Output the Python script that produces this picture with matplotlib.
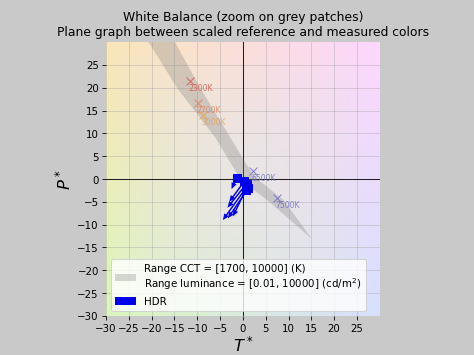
import numpy as np
import matplotlib
matplotlib.use('Agg')
import matplotlib.pyplot as plt
from matplotlib.patches import Patch, Polygon

# CCT reference points (T*, P*)
cct_labels = ['2300K', '2700K', '3000K', '6500K', '7500K']
cct_t = [-11.7, -9.9, -8.7, 2.2, 7.4]
cct_p = [21.5, 16.7, 14.0, 1.8, -4.2]
cct_colors = ['#d9534f', '#e0805a', '#e8a050', '#6a6ac8', '#6a6ac8']

# CCT / luminance range band outline (T*, P*)
band_t = [-21.9, -14.4, -6.0, -1.6, -0.5, 5.3, 15.2, 8.9, 3.4, 1.7, -2.7, -9.3, -16.0]
band_p = [32.0, 19.9, 9.0, 1.7, -0.2, -4.6, -13.2, -4.6, -0.2, 1.7, 9.0, 19.9, 32.0]

# measured grey patches: reference (start) -> measured (end)
hdr_t0 = [-1.4, 0.3, 0.8, 1.0, 1.2, 0.6]
hdr_p0 = [0.3, -0.5, -1.0, -1.5, -2.0, -2.4]
hdr_t1 = [-2.5, -3.0, -3.4, -4.4, -3.3, -2.2]
hdr_p1 = [-2.2, -5.0, -6.3, -9.0, -8.6, -8.2]

fig = plt.figure(figsize=(6.4, 4.8), dpi=474 / 6.4, facecolor='#c9c9c9')
ax = fig.add_subplot(111)
ax.set_facecolor('#c9c9c9')

# background colour plane (corner colours, blended)
corners = np.array([[[0.98, 0.90, 0.72], [1.0, 0.84, 1.0]],
                    [[0.86, 0.97, 0.74], [0.84, 0.88, 1.0]]])
u = np.linspace(0, 1, 200)
U, V = np.meshgrid(u, u)
img = ((1 - U)[..., None] * (1 - V)[..., None] * corners[0, 0]
       + U[..., None] * (1 - V)[..., None] * corners[0, 1]
       + (1 - U)[..., None] * V[..., None] * corners[1, 0]
       + U[..., None] * V[..., None] * corners[1, 1])
w = (1 - 2 * np.maximum(np.abs(U - 0.5), np.abs(V - 0.5)))[..., None] * 0.6
img = img * (1 - w) + np.array([0.91, 0.90, 0.92]) * w
ax.imshow(img, extent=[-30, 30, -30, 30], origin='upper', zorder=0, aspect='equal')

ax.grid(True, color='#a0a0a0', alpha=0.45, linewidth=0.8, zorder=1)
ax.axhline(0, color='#202020', linewidth=1.0, zorder=2)
ax.axvline(0, color='#202020', linewidth=1.0, zorder=2)

band = Polygon(list(zip(band_t, band_p)), closed=True, facecolor='grey', alpha=0.3,
               edgecolor='none', zorder=3)
ax.add_patch(band)

for lab, t, p, c in zip(cct_labels, cct_t, cct_p, cct_colors):
    ax.plot(t, p, 'x', color=c, markersize=7, alpha=0.8, zorder=4)
    ax.text(t - 0.3, p - 0.5, lab, color=c, fontsize=7.5, alpha=0.8, ha='left', va='top', zorder=4)

for t0, p0, t1, p1 in zip(hdr_t0, hdr_p0, hdr_t1, hdr_p1):
    ax.arrow(t0, p0, t1 - t0, p1 - p0, width=0.32, head_width=1.2, head_length=1.4,
             length_includes_head=True, color='#0000ee', linewidth=0, zorder=5)
ax.plot(hdr_t0, hdr_p0, 's', color='#0000ee', markersize=7, zorder=5)

ax.set_xlim(-30, 30)
ax.set_ylim(-30, 30)
ax.set_xticks(np.arange(-30, 30, 5))
ax.set_yticks(np.arange(-30, 30, 5))
for s in ax.spines.values():
    s.set_visible(False)

ax.set_xlabel('$T^*$', fontsize=16, labelpad=1)
ax.set_ylabel('$P^*$', fontsize=16)
ax.set_title('White Balance (zoom on grey patches)\n'
             'Plane graph between scaled reference and measured colors')

handles = [Patch(facecolor='grey', alpha=0.3, edgecolor='none'),
           Patch(facecolor='#0000ee', edgecolor='none')]
ax.legend(handles, ['Range CCT = [1700, 10000] (K)\nRange luminance = [0.01, 10000] (cd/m$^2$)', 'HDR'],
          loc='lower left')

fig.savefig('out.png', dpi=474 / 6.4, facecolor=fig.get_facecolor())
